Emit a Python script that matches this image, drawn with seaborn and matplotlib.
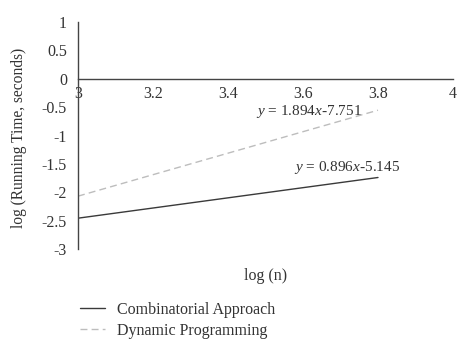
import numpy as np
import pandas as pd
import seaborn as sns
import matplotlib.pyplot as plt

# values (log n vs log running time)
log_n = [3.0, 3.8]
combinatorial = [-2.457, -1.740]
dynamic = [-2.069, -0.554]
series_names = ["Combinatorial Approach", "Dynamic Programming"]
x_ticks = [3, 3.2, 3.4, 3.6, 3.8, 4]
y_ticks = [1, 0.5, 0, -0.5, -1, -1.5, -2, -2.5, -3]

df = pd.DataFrame({
    "log_n": log_n * 2,
    "value": combinatorial + dynamic,
    "method": [series_names[0]] * len(log_n) + [series_names[1]] * len(log_n),
})

sns.set_style("white")
plt.rcParams["font.family"] = ["Liberation Serif", "DejaVu Serif"]
plt.rcParams["mathtext.fontset"] = "custom"
plt.rcParams["mathtext.it"] = "Liberation Serif:italic"
plt.rcParams["mathtext.rm"] = "Liberation Serif"

fig = plt.figure(figsize=(4.74, 3.55), dpi=100)
ax = fig.add_axes([0.1646, 0.2986, 0.7911, 0.6394])

sns.lineplot(data=df, x="log_n", y="value", hue="method", style="method",
             palette={series_names[0]: "#3a3a3a", series_names[1]: "#bdbdbd"},
             dashes={series_names[0]: "", series_names[1]: (5, 3)},
             linewidth=1.0, ax=ax, legend=False)

ax.set_xlim(3, 4)
ax.set_ylim(-3, 1)
ax.set_xticks(x_ticks)
ax.set_xticklabels([f"{t:g}" for t in x_ticks])
ax.set_yticks(y_ticks)
ax.set_yticklabels([f"{t:g}" for t in y_ticks])

for s in ["top", "right"]:
    ax.spines[s].set_visible(False)
ax.spines["bottom"].set_position(("data", 0))
ax.spines["bottom"].set_bounds(3, 4)
for s in ["left", "bottom"]:
    ax.spines[s].set_color("#444444")
    ax.spines[s].set_linewidth(1.0)
ax.tick_params(axis="both", length=0, labelsize=11.5, colors="#333333")
ax.tick_params(axis="x", pad=5)
ax.tick_params(axis="y", pad=8)

ax.set_xlabel("log (n)", fontsize=11.5, color="#333333", labelpad=0)
ax.xaxis.set_label_coords(0.5, -0.085)
ax.set_ylabel("log (Running Time, seconds)", fontsize=11.2, color="#333333")
ax.yaxis.set_label_coords(-0.135, 0.49)

ax.text(3.615, -0.585, r"$y$ = 1.894$x$-7.751", fontsize=11, color="#333333",
        ha="center", va="center")
ax.text(3.718, -1.57, r"$y$ = 0.896$x$-5.145", fontsize=11, color="#333333",
        ha="center", va="center")

handles = [plt.Line2D([], [], color="#3a3a3a", lw=1.0),
           plt.Line2D([], [], color="#bdbdbd", lw=1.0, dashes=(5, 3))]
fig.legend(handles, series_names, loc="upper left",
           bbox_to_anchor=(0.155, 0.168), frameon=False, fontsize=11.5,
           handlelength=1.6, handletextpad=0.7, labelspacing=0.3,
           labelcolor="#333333", borderaxespad=0)

fig.savefig("out.png", dpi=100)
